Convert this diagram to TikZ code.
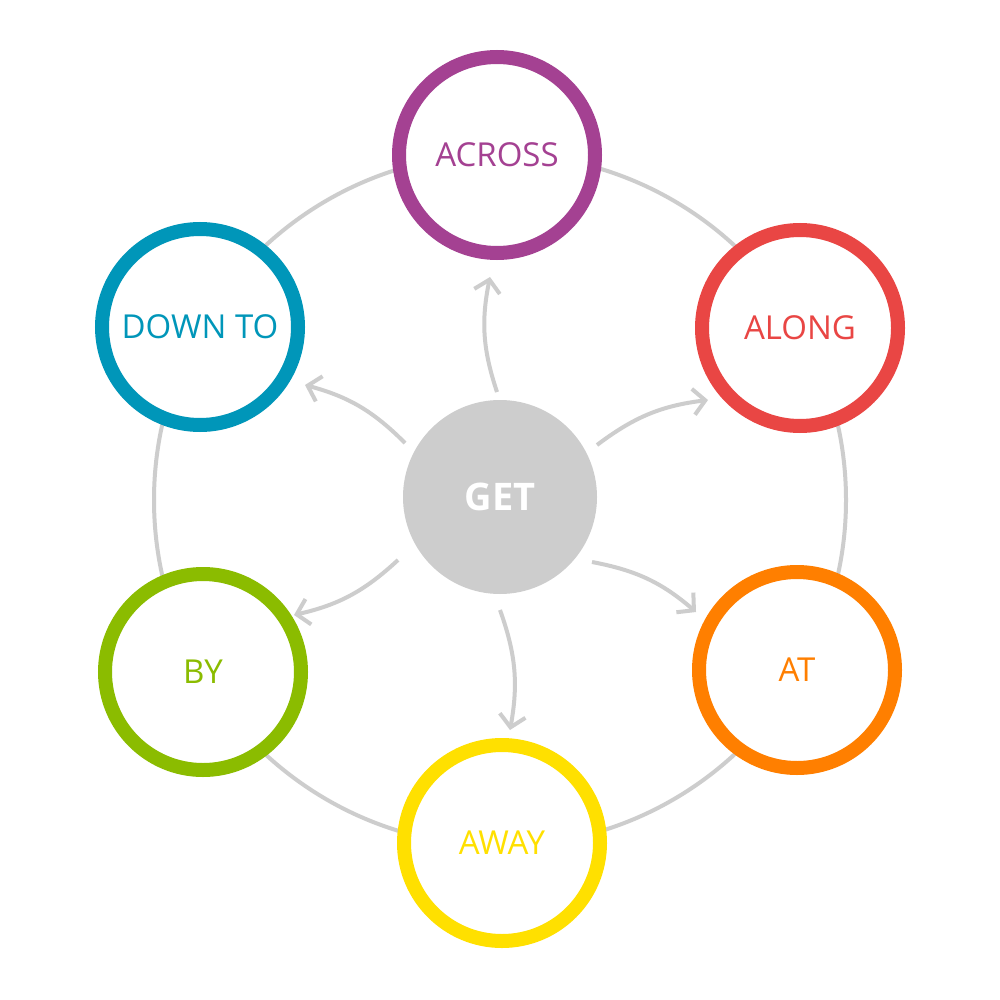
\documentclass[tikz,border=0pt]{standalone}
\usepackage{fontspec}
\setmainfont{Open Sans}
\usetikzlibrary{arrows.meta}
\definecolor{ring}{RGB}{205,205,205}
\definecolor{cAcross}{RGB}{164,65,146}
\definecolor{cAlong}{RGB}{233,70,68}
\definecolor{cAt}{RGB}{255,127,0}
\definecolor{cAway}{RGB}{255,224,0}
\definecolor{cBy}{RGB}{139,188,0}
\definecolor{cDown}{RGB}{0,150,185}
\tikzset{
 outer/.style={circle,draw=#1,line width=14pt,fill=white,minimum size=196pt,inner sep=0pt,text=#1,font=\fontsize{33}{33}\selectfont},
 conn/.style={draw=ring,line width=4pt,-{Straight Barb[length=12pt,width=26pt,line width=4pt]}}
}
\begin{document}
\begin{tikzpicture}[x=1pt,y=-1pt]
\useasboundingbox (0,0) rectangle (1000,1000);
\fill[white] (0,0) rectangle (1000,1000);
\draw[ring,line width=4pt] (500,500) circle (346);
\node[outer=cAcross] (across) at (497,155) {ACROSS};
\node[outer=cAlong] (along) at (800,328) {ALONG};
\node[outer=cAt] (at) at (797,670) {AT};
\node[outer=cAway] (away) at (502,843) {AWAY};
\node[outer=cBy] (by) at (203,672) {BY};
\node[outer=cDown] (down) at (200,327) {DOWN TO};
\node[circle,fill=ring,minimum size=194pt,inner sep=0pt,text=white,font=\fontsize{38}{38}\selectfont\bfseries] (get) at (500,497) {GET};
\coordinate (a1) at (497,392); \coordinate (a2) at (490,277);
\coordinate (b1) at (405,443); \coordinate (b2) at (305,385);
\coordinate (c1) at (597,445); \coordinate (c2) at (708,400);
\coordinate (d1) at (592,562); \coordinate (d2) at (696,612);
\coordinate (e1) at (500,610); \coordinate (e2) at (510,730);
\coordinate (f1) at (398,560); \coordinate (f2) at (294,615);
\draw[conn] (a1) to[bend left=15] (a2);
\draw[conn] (b1) to[bend right=15] (b2);
\draw[conn] (c1) to[bend left=15] (c2);
\draw[conn] (d1) to[bend left=15] (d2);
\draw[conn] (e1) to[bend left=15] (e2);
\draw[conn] (f1) to[bend left=15] (f2);
\end{tikzpicture}
\end{document}
